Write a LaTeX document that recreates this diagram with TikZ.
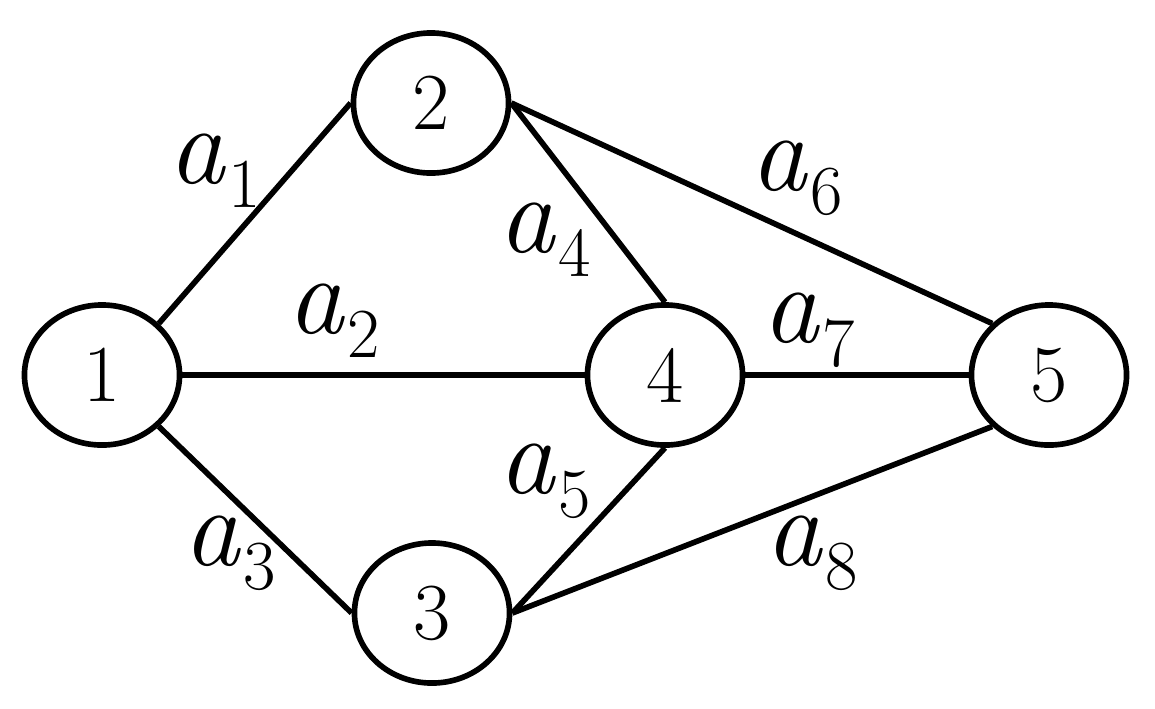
\documentclass[tikz,border=0pt]{standalone}
\usetikzlibrary{shapes.geometric}
\newcommand{\alab}[1]{{\fontsize{32}{32}\selectfont\itshape a}\kern1pt\raisebox{-7pt}{\fontsize{20}{20}\selectfont #1}}

\begin{document}
\begin{tikzpicture}[x=0.01cm, y=-0.01cm, line width=1.6pt,
	vertex/.style={draw, ellipse, minimum width=1.55cm, minimum height=1.4cm, inner sep=0pt, font=\fontsize{23}{23}\selectfont},
	elabel/.style={inner sep=0pt, anchor=base west}]
	\useasboundingbox (0,0) rectangle (1155,708);
	\foreach \n/\x/\y in {1/102/375, 2/431/103, 3/432/613, 4/665/375, 5/1049/375}{
		\node[vertex] (v\n) at (\x,\y) {\n};
	}
	\foreach \p/\q in {v1.north east/v2.west, v1.east/v4.west, v1.south east/v3.west,
		v2.east/v4.north, v2.east/v5.north west, v3.east/v4.south,
		v3.east/v5.south west, v4.east/v5.west}{
		\draw (\p) -- (\q);
	}
	\foreach \i/\x/\y in {1/166/183, 2/285/333, 3/181/565, 4/496/252,
		5/496/493, 6/748/190, 7/760/342, 8/763/565}{
		\node[elabel] (a\i) at (\x,\y) {\alab{\i}};
	}
\end{tikzpicture}
\end{document}
